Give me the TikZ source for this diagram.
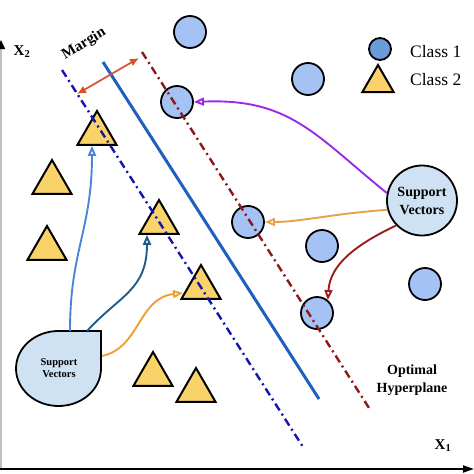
\documentclass[tikz,border=0pt]{standalone}
\usepackage{fontspec}
\setmainfont{Liberation Serif}
\usetikzlibrary{shapes.geometric,arrows.meta}
\definecolor{cfill}{HTML}{A4C2F4}
\definecolor{lfill}{HTML}{6A9BDA}
\definecolor{tfill}{HTML}{F9D26A}
\definecolor{svfill}{HTML}{CFE2F3}
\definecolor{lblue}{HTML}{4A86D8}
\definecolor{dblue}{HTML}{1D5C8F}
\definecolor{orangeA}{HTML}{EFA030}
\definecolor{orangeB}{HTML}{E8A048}
\definecolor{purpleA}{HTML}{9A2BE2}
\definecolor{dred}{HTML}{9B1C1C}
\definecolor{marrow}{HTML}{D9512C}
\definecolor{hyper}{HTML}{1F5FBF}
\definecolor{bmargin}{HTML}{1515B0}
\definecolor{rmargin}{HTML}{8B1A1A}
\tikzset{
  clsone/.style={circle, draw=black, line width=1.8pt, fill=cfill, minimum size=32pt, inner sep=0pt},
  clstwo/.style={regular polygon, regular polygon sides=3, draw=black, line width=2pt, fill=tfill, minimum size=45pt, inner sep=0pt},
  conn/.style={line width=1.9pt, -{Triangle[length=10pt, width=8pt, fill=white]}},
  dashdot/.style={line width=2.4pt, dash pattern=on 8pt off 4pt on 2pt off 4pt},
  lbl/.style={font=\bfseries\fontsize{14}{18}\selectfont, align=center, inner sep=0pt}
}
\begin{document}
\begin{tikzpicture}[x=1pt,y=-1pt]
\useasboundingbox (0,0) rectangle (474,474);
% axes
\coordinate (o) at (1,469);
\coordinate (ytop) at (1,40);
\coordinate (xo) at (0,469);
\coordinate (xend) at (474,469);
\draw[line width=1.6pt, gray!50, -{Triangle[length=9pt,width=8pt,black]}] (o) -- (ytop);
\draw[line width=2pt, black, -{Triangle[length=11pt,width=7pt]}] (xo) -- (xend);
\node[font=\bfseries\fontsize{15}{18}\selectfont, inner sep=0pt] (x2) at (22,52) {X\textsubscript{2}};
\node[font=\bfseries\fontsize{15}{18}\selectfont, inner sep=0pt] (x1) at (443,446) {X\textsubscript{1}};
% class 1 circles
\node[clsone] (c1) at (190,32) {};
\node[clsone] (c2) at (308,79) {};
\node[clsone] (c3) at (177,102) {};
\node[clsone] (c4) at (248,222) {};
\node[clsone] (c5) at (322,246) {};
\node[clsone] (c6) at (425,284) {};
\node[clsone] (c7) at (317,313) {};
% class 2 triangles
\node[clstwo] (t1) at (97,133.5) {};
\node[clstwo] (t2) at (52,182.5) {};
\node[clstwo] (t3) at (47,248.5) {};
\node[clstwo] (t4) at (159,222.5) {};
\node[clstwo] (t5) at (201,287.5) {};
\node[clstwo] (t6) at (153,374.5) {};
\node[clstwo] (t7) at (196,390.5) {};
% legend
\node[clsone, fill=lfill, minimum size=22pt] (lc) at (380,49) {};
\node[clstwo, minimum size=36pt] (lt) at (378,83) {};
\node[font=\fontsize{17.5}{20}\selectfont, anchor=west, inner sep=0pt] (l1) at (410,52) {Class 1};
\node[font=\fontsize{17.5}{20}\selectfont, anchor=west, inner sep=0pt] (l2) at (410,80) {Class 2};
% lines
\coordinate (h1) at (103,62);
\coordinate (h2) at (319,399);
\coordinate (bm1) at (62,70);
\coordinate (bm2) at (303,447);
\coordinate (rm1) at (142,52);
\coordinate (rm2) at (369,408);
\draw[line width=3pt, hyper] (h1) -- (h2);
\draw[dashdot, bmargin] (bm1) -- (bm2);
\draw[dashdot, rmargin] (rm1) -- (rm2);
% margin arrow
\coordinate (ma) at (77,94);
\coordinate (mb) at (139,58);
\draw[marrow, line width=1.7pt, {Latex[length=9pt,width=8pt]}-{Latex[length=9pt,width=8pt]}] (ma) -- (mb);
\node[font=\bfseries\fontsize{15}{17}\selectfont, rotate=31, inner sep=0pt] (margin) at (84,44) {Margin};
% support vectors right
\node[circle, draw=black, line width=1.8pt, fill=svfill, minimum size=70pt, inner sep=0pt, lbl] (sv1) at (422,200.5) {Support\\Vectors};
% support vectors blob
\draw[line width=1.8pt, fill=svfill] (58.5,331) -- (101,331) -- (101,368.5) arc[start angle=0, end angle=270, x radius=42.5, y radius=37.5] -- cycle;
\node[font=\bfseries\fontsize{10.5}{11.5}\selectfont, align=center, inner sep=0pt] (sv2) at (59,368) {Support\\Vectors};
\coordinate (b1) at (70,331);
\coordinate (b2) at (87,331);
\coordinate (b3) at (102,356);
\coordinate (t5a) at (183,293);
% connectors
\draw[conn, lblue] (b1) .. controls (70,250) and (92,230) .. ([xshift=-5pt]t1.side 2);
\draw[conn, dblue] (b2) .. controls (120,295) and (147,290) .. ([xshift=-12pt]t4.side 2);
\draw[conn, orangeA] (b3) .. controls (140,348) and (138,298) .. (t5a);
\draw[conn, purpleA] (sv1.168) .. controls (315,135) and (290,98) .. (c3.east);
\draw[conn, orangeB] (sv1.195) .. controls (330,214) and (300,222) .. (c4.east);
\draw[conn, dred] (sv1.224) .. controls (355,245) and (330,265) .. (c7.50);
% optimal hyperplane
\node[lbl] (opt) at (412,380) {Optimal\\Hyperplane};
\end{tikzpicture}
\end{document}
